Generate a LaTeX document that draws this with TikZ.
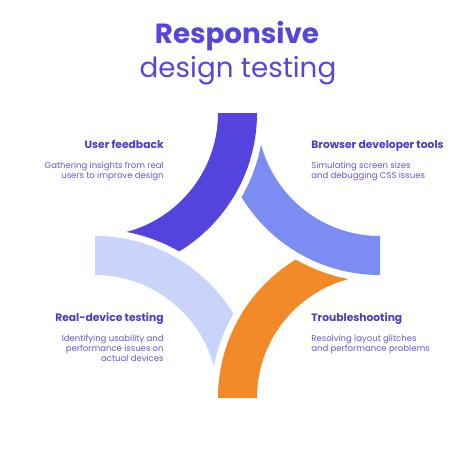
\documentclass[tikz,border=0pt]{standalone}
\usepackage{fontspec}
\setmainfont{Poppins}
\usetikzlibrary{positioning}

\definecolor{deepblue}{HTML}{5444DD}
\definecolor{periwinkle}{HTML}{7B8DF2}
\definecolor{tangerine}{HTML}{F28A2A}
\definecolor{paleblue}{HTML}{C8D4FA}
\definecolor{titleink}{HTML}{5646DC}
\definecolor{labelink}{HTML}{4A3BC6}
\definecolor{textink}{HTML}{6353D8}

\def\bandin{24.6mm}
\def\bandout{32.4mm}
\def\bandcut{33.8mm}
\newcommand{\bandpath}[3]{([shift={(#2:\bandout)}]#1) arc[start angle=#2, end angle=#3, radius=\bandout] -- ([shift={(#3:\bandin)}]#1) arc[start angle=#3, end angle=#2, radius=\bandin] -- cycle}

\begin{document}
\begin{tikzpicture}[
        x=0.2mm, y=0.2mm,
        heading/.style={
            font=\fontsize{6.1}{7}\selectfont\bfseries, text=labelink, inner sep=0pt
        },
        blurb/.style={
            font=\fontsize{4.85}{5.5}\selectfont, text=textink, inner sep=0pt
        },
        cutaway/.style={
            even odd rule
        }
    ]
        \useasboundingbox (0,0) rectangle (474,-474);

        % ----------------------------------------------------
        % TITLE
        % ----------------------------------------------------
        \node[anchor=base, font=\fontsize{15.8}{18}\selectfont\bfseries, text=titleink, inner sep=0pt] (title) at (237,-43) {Responsive};
        \node[anchor=base, font=\fontsize{15.8}{18}\selectfont, text=titleink, inner sep=0pt] (subtitle) at (238,-77) {design testing};

        % ----------------------------------------------------
        % CENTERS OF THE FOUR BANDS
        % ----------------------------------------------------
        \coordinate (c1) at (95,-113);
        \coordinate (c2) at (380,-113);
        \coordinate (c3) at (380,-398);
        \coordinate (c4) at (95,-398);

        % ----------------------------------------------------
        % BANDS (each one cut by the next band's outer circle)
        % ----------------------------------------------------
        \begin{scope}[cutaway]
            \clip (0,0) rectangle (474,-474) (c4) circle[radius=\bandcut];
            \fill[deepblue] \bandpath{c1}{0}{-90};
        \end{scope}
        \begin{scope}[cutaway]
            \clip (0,0) rectangle (474,-474) (c1) circle[radius=\bandcut];
            \fill[periwinkle] \bandpath{c2}{-90}{-180};
        \end{scope}
        \begin{scope}[cutaway]
            \clip (0,0) rectangle (474,-474) (c2) circle[radius=\bandcut];
            \fill[tangerine] \bandpath{c3}{180}{90};
        \end{scope}
        \begin{scope}[cutaway]
            \clip (0,0) rectangle (474,-474) (c3) circle[radius=\bandcut];
            \fill[paleblue] \bandpath{c4}{90}{0};
        \end{scope}

        % ----------------------------------------------------
        % LEFT LABELS
        % ----------------------------------------------------
        \node[heading, anchor=base east] (feedback) at (164,-148.5) {User feedback};
        \node[blurb, align=right, below=13 of feedback.base east, anchor=north east] (feedback-text) {Gathering insights from real\\users to improve design};

        \node[heading, anchor=base east] (realdevice) at (164,-321.5) {Real-device testing};
        \node[blurb, align=right, below=13.5 of realdevice.base east, anchor=north east] (realdevice-text) {Identifying usability and\\performance issues on\\actual devices};

        % ----------------------------------------------------
        % RIGHT LABELS
        % ----------------------------------------------------
        \node[heading, anchor=base west] (browser) at (311,-148.5) {Browser developer tools};
        \node[blurb, align=left, below=13 of browser.base west, anchor=north west] (browser-text) {Simulating screen sizes\\and debugging CSS issues};

        \node[heading, anchor=base west] (trouble) at (311,-321.5) {Troubleshooting};
        \node[blurb, align=left, below=13.5 of trouble.base west, anchor=north west] (trouble-text) {Resolving layout glitches\\and performance problems};

    \end{tikzpicture}
\end{document}
